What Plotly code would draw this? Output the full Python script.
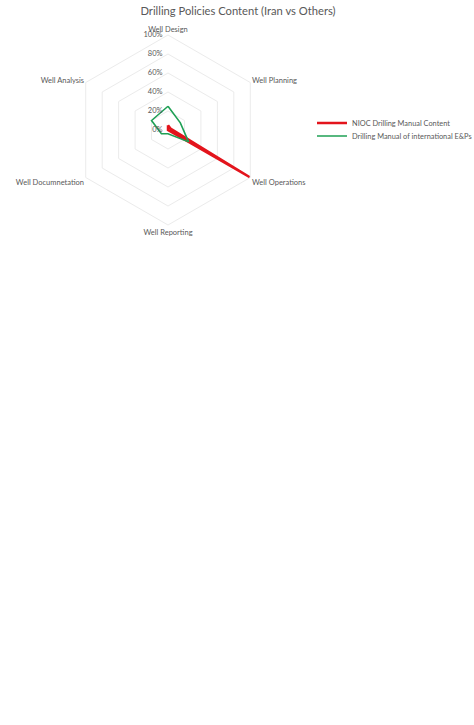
import plotly.graph_objects as go

categories = ["Well Design", "Well Planning", "Well Operations", "Well Reporting",
              "Well Documnetation", "Well Analysis"]
nioc = [0.05, 0.03, 1.00, 0.0, 0.0, 0.0]
intl = [0.25, 0.15, 0.25, 0.04, 0.08, 0.20]
radial_ticks = [0, 0.2, 0.4, 0.6, 0.8, 1.0]
radial_labels = ["0%", "20%", "40%", "60%", "80%", "100%"]

W, H = 474, 725
cx, cy, R = 168, 130, 95

def closed(v):
    return list(v) + [v[0]]

fig = go.Figure()
fig.add_trace(go.Scatterpolar(
    r=closed(nioc), theta=closed(categories), mode="lines",
    name="NIOC Drilling Manual Content", legend="legend",
    line=dict(color="#E3141C", width=2.5)))
fig.add_trace(go.Scatterpolar(
    r=closed(intl), theta=closed(categories), mode="lines",
    name="Drilling Manual of international E&Ps", legend="legend2",
    line=dict(color="#1FA055", width=1.6)))

fnt = "Lato"
leg_common = dict(x=312 / W, xanchor="left", yanchor="middle",
                  font=dict(family=fnt, size=7.4, color="#595959"),
                  bgcolor="rgba(0,0,0,0)", itemwidth=30)
fig.update_layout(
    width=W, height=H,
    margin=dict(l=0, r=0, t=0, b=0, autoexpand=False),
    paper_bgcolor="white", plot_bgcolor="white",
    font=dict(family=fnt, color="#595959", size=8),
    title=dict(text="Drilling Policies Content (Iran vs Others)",
               x=238 / W, xanchor="center", y=1 - 11 / H, yanchor="middle",
               font=dict(family=fnt, size=11.2, color="#595959")),
    showlegend=True,
    legend=dict(y=1 - 123 / H, **leg_common),
    legend2=dict(y=1 - 136 / H, **leg_common),
    polar=dict(
        domain=dict(x=[(cx - R) / W, (cx + R) / W],
                    y=[1 - (cy + R) / H, 1 - (cy - R) / H]),
        bgcolor="white",
        gridshape="linear",
        radialaxis=dict(range=[0, 1], tickvals=radial_ticks,
                        ticktext=[t + "\u00a0\u00a0" for t in radial_labels],
                        angle=90, tickangle=90, side="counterclockwise",
                        showline=False, ticks="", gridcolor="#EBEBEB", gridwidth=1,
                        tickfont=dict(size=7.5, color="#595959")),
        angularaxis=dict(rotation=90, direction="clockwise", showgrid=False,
                         showline=True, linecolor="#EBEBEB", linewidth=1, ticks="",
                         tickfont=dict(size=7.5, color="#595959")),
    ),
)

fig.write_html("out.html",
               config={"displayModeBar": False},
               post_script="document.body.style.margin='0';"
                           "document.documentElement.style.overflow='hidden';")
